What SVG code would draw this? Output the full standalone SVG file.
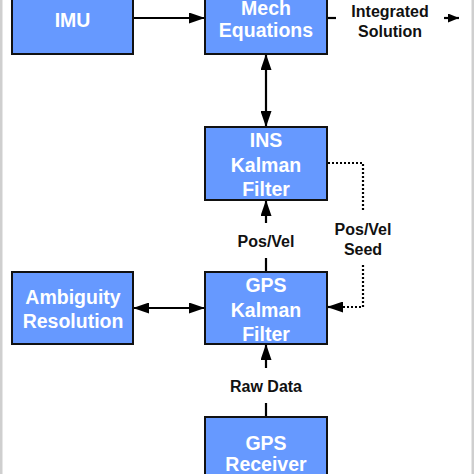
<svg xmlns="http://www.w3.org/2000/svg" width="474" height="474" viewBox="0 0 474 474">
<style>
.box{fill:#6699FF;stroke:#111;stroke-width:2}
.nt{fill:#fff;font-family:"Liberation Sans",Arial,sans-serif;font-weight:bold;font-size:19.5px;text-anchor:middle}
.lt{fill:#111;font-family:"Liberation Sans",Arial,sans-serif;font-weight:bold;font-size:16px;text-anchor:middle}
.ln{stroke:#000;stroke-width:2.2;fill:none}
.dot{stroke:#000;stroke-width:2.2;fill:none;stroke-dasharray:2 2}
</style>
<defs>
<marker id="ah" markerUnits="userSpaceOnUse" markerWidth="16" markerHeight="11" refX="16" refY="5.5" orient="auto-start-reverse">
<path d="M0,0 L16,5.5 L0,11 z" fill="#000"/>
</marker>
<marker id="ahs" markerUnits="userSpaceOnUse" markerWidth="11" markerHeight="9" refX="11" refY="4.5" orient="auto">
<path d="M0,0 L11,4.5 L0,9 z" fill="#000"/>
</marker>
</defs>
<rect x="0" y="0" width="474" height="474" fill="#fff"/>
<rect x="0" y="0" width="2.5" height="474" fill="#cfcfcf"/>
<rect x="471.5" y="0" width="2.5" height="474" fill="#cfcfcf"/>
<g id="connectors">
<line class="ln" x1="133" y1="18" x2="205" y2="18" marker-end="url(#ah)"/>
<line class="ln" x1="327" y1="18" x2="336" y2="18"/>
<line class="ln" x1="444" y1="18" x2="459" y2="18" marker-end="url(#ahs)"/>
<line class="ln" x1="266" y1="54" x2="266" y2="127" marker-start="url(#ah)" marker-end="url(#ah)"/>
<line class="ln" x1="266" y1="272" x2="266" y2="258"/>
<line class="ln" x1="266" y1="223" x2="266" y2="200" marker-end="url(#ah)"/>
<line class="ln" x1="133" y1="308" x2="205" y2="308" marker-start="url(#ah)" marker-end="url(#ah)"/>
<line class="ln" x1="266" y1="417" x2="266" y2="403"/>
<line class="ln" x1="266" y1="368" x2="266" y2="344" marker-end="url(#ah)"/>
<polyline class="dot" points="328,163 363,163 363,210"/>
<polyline class="dot" points="363,265 363,307 341,307"/>
<line class="ln" x1="342" y1="307" x2="327" y2="307" marker-end="url(#ah)"/>
<text class="lt" x="390" y="17">Integrated</text>
<text class="lt" x="390" y="36.5">Solution</text>
<text class="lt" x="266" y="247">Pos/Vel</text>
<text class="lt" x="363" y="235">Pos/Vel</text>
<text class="lt" x="363" y="255">Seed</text>
<text class="lt" x="266" y="392">Raw Data</text>
</g>
<g id="imu"><rect class="box" x="12" y="-10" width="121" height="64"/><text class="nt" x="72.5" y="27">IMU</text></g>
<g id="mech"><rect class="box" x="205" y="-10" width="122" height="64"/><text class="nt" x="266" y="15">Mech</text><text class="nt" x="266" y="37">Equations</text></g>
<g id="ins"><rect class="box" x="205" y="127" width="122" height="73"/><text class="nt" x="266" y="147">INS</text><text class="nt" x="266" y="171.5">Kalman</text><text class="nt" x="266" y="195.5">Filter</text></g>
<g id="gpskf"><rect class="box" x="205" y="272" width="122" height="72"/><text class="nt" x="266" y="292">GPS</text><text class="nt" x="266" y="316.5">Kalman</text><text class="nt" x="266" y="340.5">Filter</text></g>
<g id="amb"><rect class="box" x="12" y="272" width="121" height="72"/><text class="nt" x="73" y="303.5">Ambiguity</text><text class="nt" x="73" y="328">Resolution</text></g>
<g id="gpsrx"><rect class="box" x="205" y="417" width="122" height="70"/><text class="nt" x="266" y="450">GPS</text><text class="nt" x="266" y="471">Receiver</text></g>
</svg>
